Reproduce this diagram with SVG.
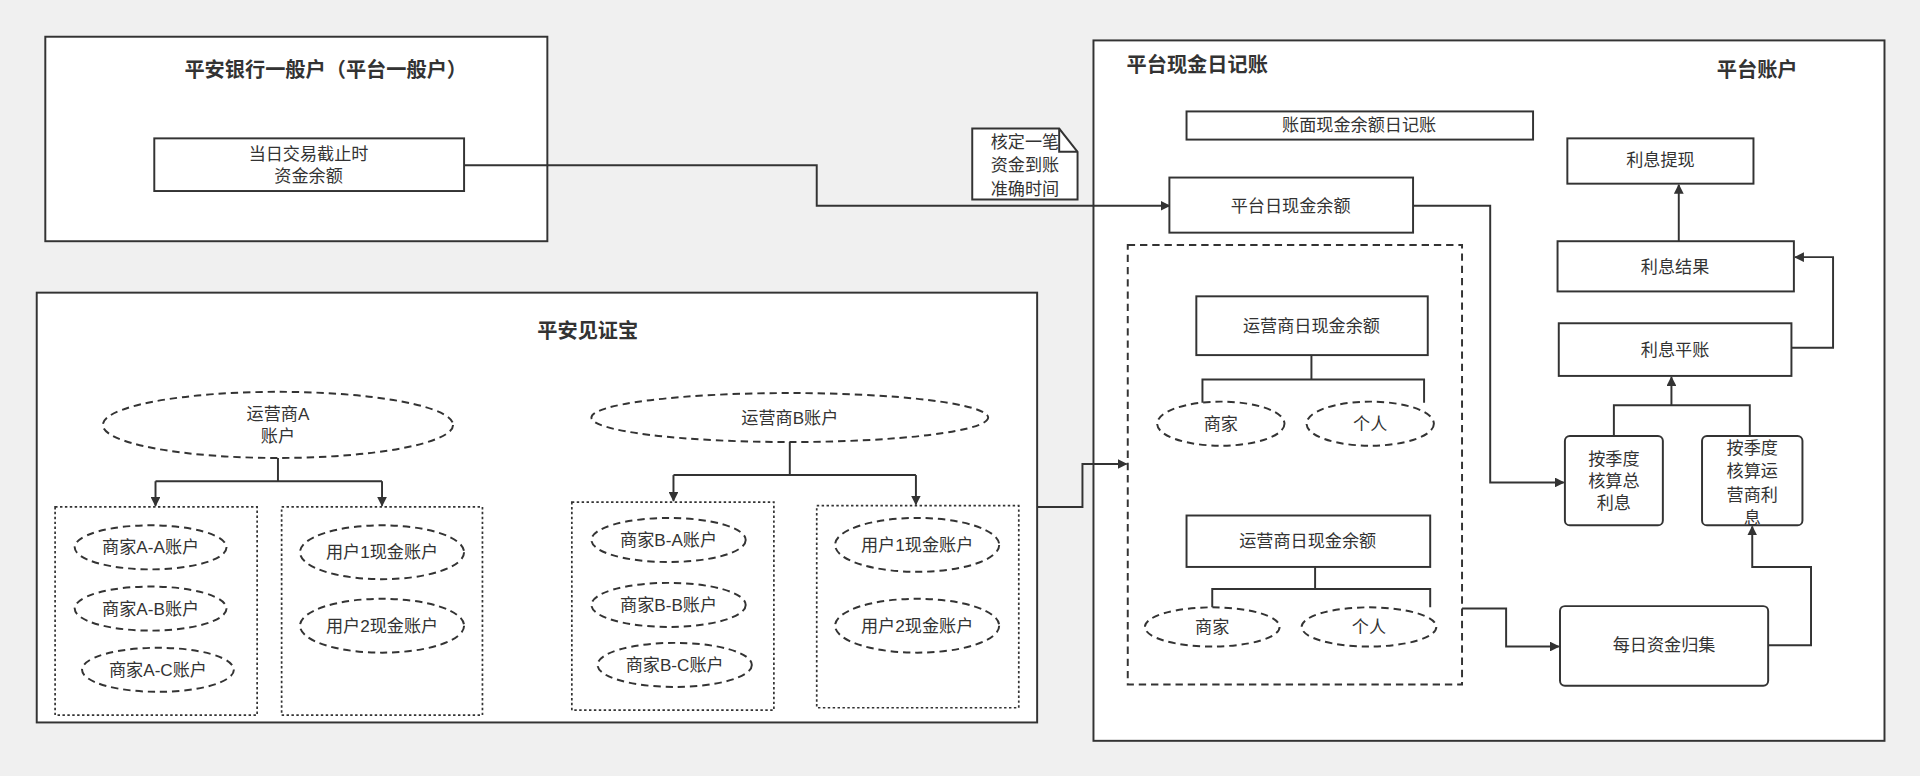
<svg xmlns="http://www.w3.org/2000/svg" width="1920" height="776" viewBox="0 0 1920 776">
<defs>
<marker id="ar" viewBox="0 0 10 10" refX="9" refY="5" markerWidth="8" markerHeight="8" markerUnits="userSpaceOnUse" orient="auto"><path d="M0,0L10,5L0,10z" fill="#333"/></marker>
<style>
text{font-family:"Liberation Sans","Noto Sans CJK SC",sans-serif;font-size:14px;fill:#333;text-anchor:middle;dominant-baseline:central}
.t{font-weight:bold;font-size:16.5px}
.b{fill:#fff;stroke:#333;stroke-width:1.6}
.d{fill:#fff;stroke:#333;stroke-width:1.6;stroke-dasharray:6 4}
.o{fill:#fff;stroke:#333;stroke-width:1.4;stroke-dasharray:2 2}
.c{fill:none;stroke:#333;stroke-width:1.6}
.a{fill:none;stroke:#333;stroke-width:1.6;marker-end:url(#ar)}
</style>
</defs>
<rect width="1920" height="776" fill="#f0f0f0"/>
<g transform="scale(1.22449)">
<g id="bank"><rect class="b" x="37" y="30" width="410" height="167"/><text class="t" x="266" y="57">平安银行一般户（平台一般户）</text></g>
<g id="eod"><rect class="b" x="126" y="113" width="253" height="43"/><text x="252" y="126">当日交易截止时</text><text x="252" y="144">资金余额</text></g>
<g id="note"><path class="b" d="M794,105H865L880,124V163H794Z"/><path class="c" d="M865,105V124H880"/><text x="837" y="116">核定一笔</text><text x="837" y="135">资金到账</text><text x="837" y="154">准确时间</text></g>
<g id="jzb"><rect class="b" x="30" y="239" width="817" height="351"/><text class="t" x="480" y="270">平安见证宝</text></g>
<g id="opA"><ellipse class="d" cx="227" cy="347" rx="143" ry="27"/><text x="227" y="338">运营商A</text><text x="227" y="356">账户</text></g>
<g id="grpAA"><rect class="o" x="45" y="414" width="165" height="170"/></g>
<g id="grpAU"><rect class="o" x="230" y="414" width="164" height="170"/></g>
<g id="mAA"><ellipse class="d" cx="123" cy="447" rx="62" ry="18"/><text x="123" y="447">商家A-A账户</text></g>
<g id="mAB"><ellipse class="d" cx="123" cy="497" rx="62" ry="18"/><text x="123" y="497">商家A-B账户</text></g>
<g id="mAC"><ellipse class="d" cx="129" cy="547" rx="62" ry="18"/><text x="129" y="547">商家A-C账户</text></g>
<g id="uA1"><ellipse class="d" cx="312" cy="451" rx="67" ry="22"/><text x="312" y="451">用户1现金账户</text></g>
<g id="uA2"><ellipse class="d" cx="312" cy="511" rx="67" ry="22"/><text x="312" y="511">用户2现金账户</text></g>
<g id="opB"><ellipse class="d" cx="645" cy="341" rx="162" ry="20"/><text x="645" y="341">运营商B账户</text></g>
<g id="grpBA"><rect class="o" x="467" y="410" width="165" height="170"/></g>
<g id="grpBU"><rect class="o" x="667" y="413" width="165" height="165"/></g>
<g id="mBA"><ellipse class="d" cx="546" cy="441" rx="63" ry="18"/><text x="546" y="441">商家B-A账户</text></g>
<g id="mBB"><ellipse class="d" cx="546" cy="494" rx="63" ry="18"/><text x="546" y="494">商家B-B账户</text></g>
<g id="mBC"><ellipse class="d" cx="551" cy="543" rx="63" ry="18"/><text x="551" y="543">商家B-C账户</text></g>
<g id="uB1"><ellipse class="d" cx="749" cy="445" rx="67" ry="22"/><text x="749" y="445">用户1现金账户</text></g>
<g id="uB2"><ellipse class="d" cx="749" cy="511" rx="67" ry="22"/><text x="749" y="511">用户2现金账户</text></g>
<g id="platform"><rect class="b" x="893" y="33" width="646" height="572"/><text class="t" x="920" y="53" style="text-anchor:start">平台现金日记账</text><text class="t" x="1435" y="57">平台账户</text></g>
<g id="ledger"><rect class="b" x="969" y="91" width="283" height="23"/><text x="1110" y="102">账面现金余额日记账</text></g>
<g id="pdaily"><rect class="b" x="955" y="145" width="199" height="45"/><text x="1054" y="168">平台日现金余额</text></g>
<g id="opgrp"><rect class="d" x="921" y="200" width="273" height="359"/></g>
<g id="op1"><rect class="b" x="977" y="242" width="189" height="48"/><text x="1071" y="266">运营商日现金余额</text></g>
<g id="op1m"><ellipse class="d" cx="997" cy="346" rx="52" ry="18"/><text x="997" y="346">商家</text></g>
<g id="op1p"><ellipse class="d" cx="1119" cy="346" rx="52" ry="18"/><text x="1119" y="346">个人</text></g>
<g id="op2"><rect class="b" x="969" y="421" width="199" height="42"/><text x="1068" y="442">运营商日现金余额</text></g>
<g id="op2m"><ellipse class="d" cx="990" cy="512" rx="55" ry="16"/><text x="990" y="512">商家</text></g>
<g id="op2p"><ellipse class="d" cx="1118" cy="512" rx="55" ry="16"/><text x="1118" y="512">个人</text></g>
<g id="withdraw"><rect class="b" x="1280" y="113" width="152" height="37"/><text x="1356" y="131">利息提现</text></g>
<g id="result"><rect class="b" x="1272" y="197" width="193" height="41"/><text x="1368" y="218">利息结果</text></g>
<g id="balance"><rect class="b" x="1273" y="264" width="190" height="43"/><text x="1368" y="286">利息平账</text></g>
<g id="total"><rect class="b" x="1278" y="356" width="80" height="73" rx="4"/><text x="1318" y="375">按季度</text><text x="1318" y="393">核算总</text><text x="1318" y="411">利息</text></g>
<g id="opint"><rect class="b" x="1390" y="356" width="82" height="73" rx="4"/><text x="1431" y="366">按季度</text><text x="1431" y="385">核算运</text><text x="1431" y="404">营商利</text><text x="1431" y="423">息</text></g>
<g id="collect"><rect class="b" x="1274" y="495" width="170" height="65" rx="4"/><text x="1359" y="527">每日资金归集</text></g>
<g id="connectors">
<path class="a" d="M379,135H667V168H955"/>
<path class="c" d="M227,374V393M127,393H312"/><path class="a" d="M127,393V413"/><path class="a" d="M312,393V413"/>
<path class="c" d="M645,361V388M550,388H748"/><path class="a" d="M550,388V409"/><path class="a" d="M748,388V412"/>
<path class="a" d="M847,414H884V379H920"/>
<path class="c" d="M1071,290V310H982V329M1071,310H1163V329"/>
<path class="c" d="M1074,463V481H990V496M1074,481H1168V496"/>
<path class="a" d="M1154,168H1217V394H1277"/>
<path class="a" d="M1194,497H1230V528H1273"/>
<path class="a" d="M1371,197V151"/>
<path class="a" d="M1463,284H1497V210H1466"/>
<path class="c" d="M1318,356V331H1429V356"/><path class="a" d="M1365,331V308"/>
<path class="a" d="M1444,527H1479V463H1431V430"/>
</g>
</g>
</svg>
